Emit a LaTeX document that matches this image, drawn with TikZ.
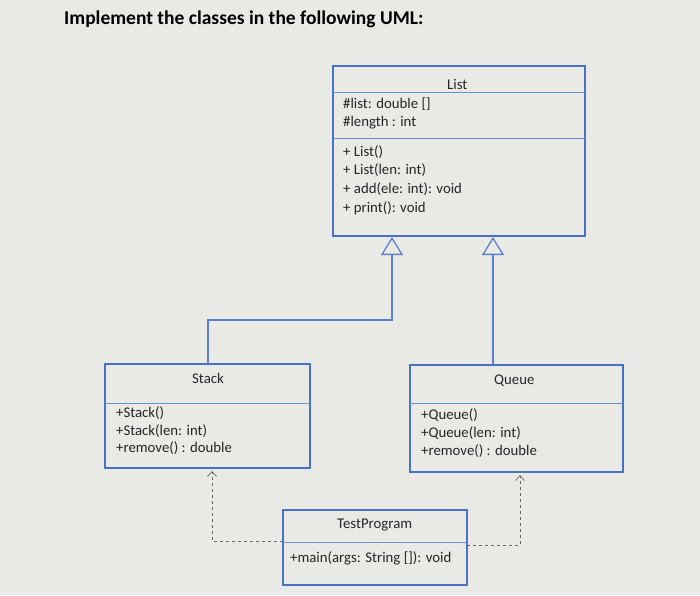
\documentclass[tikz,border=0pt]{standalone}
\usepackage{fontspec}
\setmainfont{Carlito}
\usetikzlibrary{arrows.meta}
\definecolor{umlblue}{HTML}{4A72C4}
\definecolor{bg}{HTML}{E9E9E6}
\tikzset{
  box/.style={draw=umlblue,line width=2pt},
  sep/.style={draw=umlblue!80,line width=1pt},
  txt/.style={anchor=west,inner sep=0pt,font=\fontsize{14.8pt}{16pt}\selectfont,text=black!85},
  inh/.style={draw=umlblue!90,line width=1.3pt,-{Triangle[open,width=22pt,length=18pt,fill=bg]}},
  dep/.style={draw=black!60,line width=0.7pt,dashed,-{Straight Barb[length=5pt,width=9pt]}}
}
\begin{document}
\begin{tikzpicture}[x=1pt,y=-1pt]
\fill[bg] (0,0) rectangle (700,595);
\useasboundingbox (0,0) rectangle (700,595);
\node[anchor=west,inner sep=0pt,font=\bfseries\fontsize{19.5pt}{22pt}\selectfont] (title) at (64,19) {Implement the classes in the following UML:};
% List
\draw[box] (333,66) rectangle (585,236);
\coordinate (L1) at (392,237); \coordinate (L2) at (493,237);
\draw[sep] (333,92) -- (585,92);
\draw[sep] (333,138) -- (585,138);
\node[txt] (ln) at (447,84) {List};
\node[txt] (la1) at (343,104) {\#list: double []};
\node[txt] (la2) at (343,123) {\#length : int};
\node[txt] (lm1) at (343,152) {+ List()};
\node[txt] (lm2) at (343,170) {+ List(len: int)};
\node[txt] (lm3) at (343,189) {+ add(ele: int): void};
\node[txt] (lm4) at (343,208) {+ print(): void};
% Stack
\draw[box] (105,364) rectangle (310,468);
\draw[sep] (105,403) -- (310,403);
\node[txt] (sn) at (192,378) {Stack};
\node[txt] (s1) at (116,413) {+Stack()};
\node[txt] (s2) at (116,431) {+Stack(len: int)};
\node[txt] (s3) at (116,448) {+remove() : double};
\coordinate (Stop) at (208,364); \coordinate (Sbot) at (212,471);
% Queue
\draw[box] (410,365) rectangle (623,472);
\draw[sep] (410,403) -- (623,403);
\node[txt] (qn) at (494,381) {Queue};
\node[txt] (q1) at (421,415) {+Queue()};
\node[txt] (q2) at (421,433) {+Queue(len: int)};
\node[txt] (q3) at (421,451) {+remove() : double};
\coordinate (Qtop) at (493,365); \coordinate (Qbot) at (520,475);
% TestProgram
\draw[box] (283,510) rectangle (467,585);
\draw[sep] (283,542) -- (467,542);
\node[txt] (tn) at (337,525) {TestProgram};
\node[txt] (t1) at (290,558) {+main(args: String []): void};
\coordinate (TL) at (283,541); \coordinate (TR) at (467,545);
% connectors
\draw[inh] (Stop) -- (208,320) -- (392,320) -- (L1);
\draw[inh] (Qtop) -- (L2);
\draw[dep] (TL) -- (212,541) -- (Sbot);
\draw[dep] (TR) -- (520,545) -- (Qbot);
\end{tikzpicture}
\end{document}
